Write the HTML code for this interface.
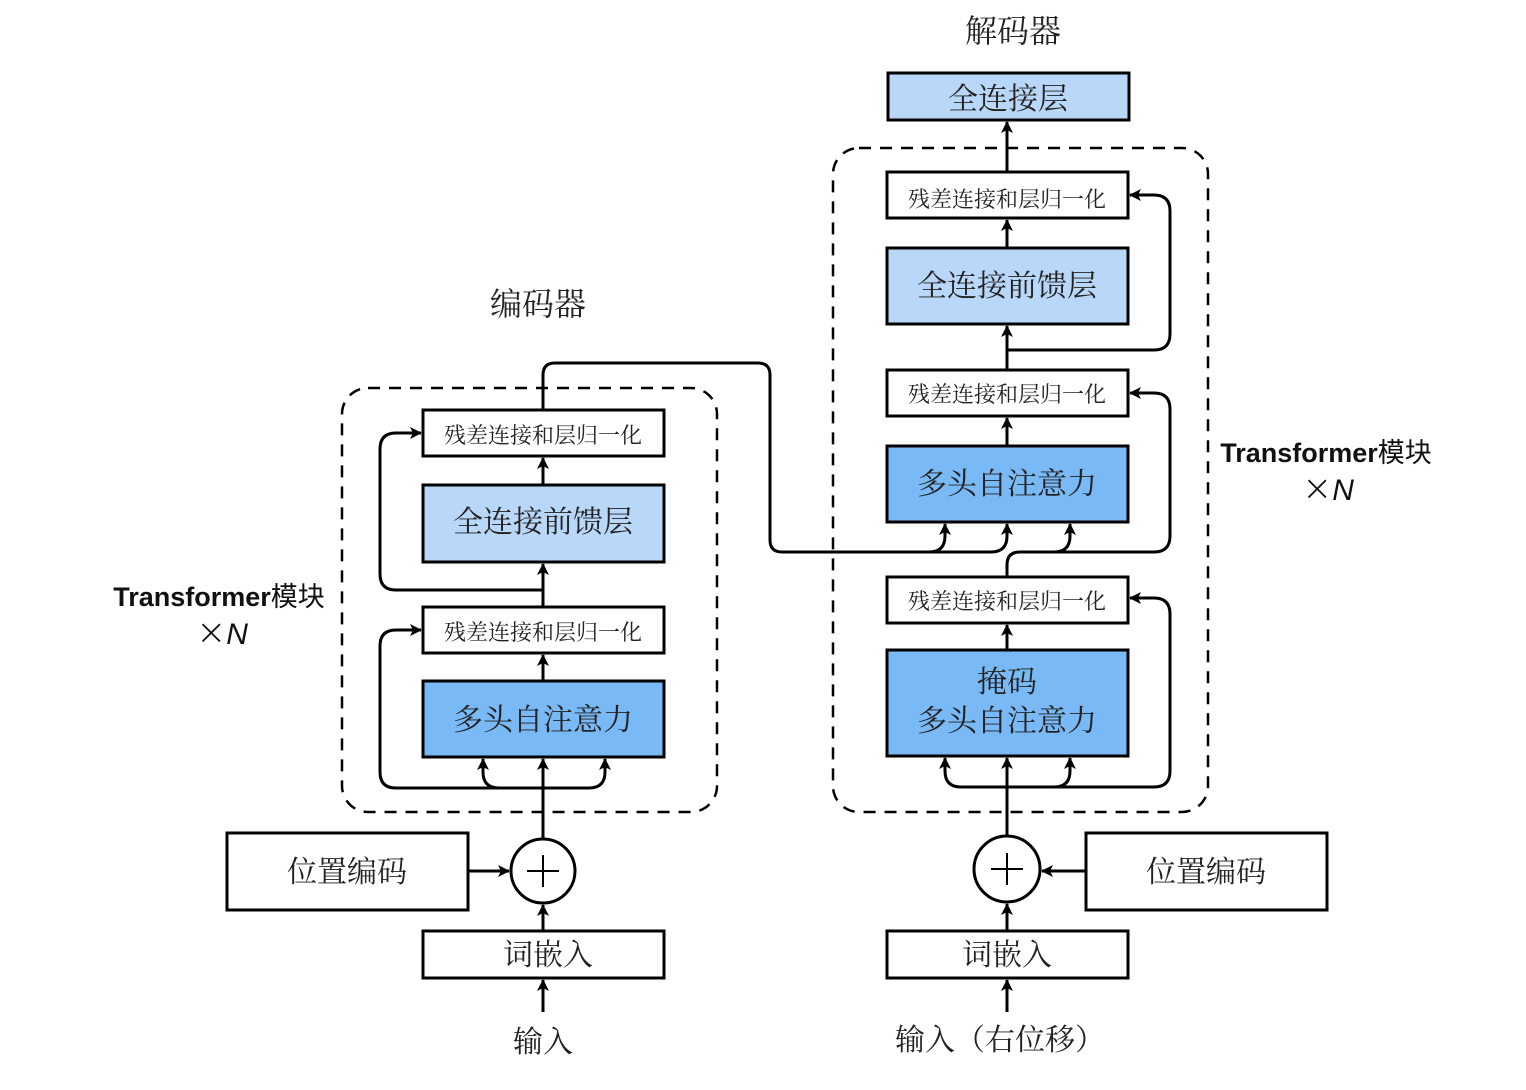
<!DOCTYPE html>
<html><head><meta charset="utf-8"><style>
html,body{margin:0;padding:0;background:#fff}
svg{display:block}
.s{font-family:"Liberation Serif","Noto Serif CJK SC",serif;fill:#222}
.b{font-family:"Liberation Sans","Noto Sans CJK SC",sans-serif;font-weight:bold;fill:#111}
</style></head><body>
<svg width="1526" height="1090" viewBox="0 0 1526 1090" xmlns="http://www.w3.org/2000/svg">
<defs>
<marker id="a" viewBox="0 0 12 12" refX="11" refY="6" markerWidth="12" markerHeight="12" markerUnits="userSpaceOnUse" orient="auto">
<path d="M0,0 L12,6 L0,12 L3,6 z" fill="#000"/></marker>
</defs>
<g fill="none" stroke="#000" stroke-width="3">
<rect x="342" y="388" width="375" height="424" rx="26" stroke-dasharray="12,9" stroke-width="2.5"/>
<rect x="833" y="148" width="375" height="664" rx="26" stroke-dasharray="12,9" stroke-width="2.5"/>
<rect x="423" y="410" width="241" height="46" fill="#fff"/>
<rect x="423" y="485" width="241" height="77" fill="#b9d7f9"/>
<rect x="423" y="607" width="241" height="46" fill="#fff"/>
<rect x="423" y="681" width="241" height="76" fill="#79b9f5"/>
<rect x="227" y="833" width="241" height="77" fill="#fff"/>
<rect x="423" y="931" width="241" height="47" fill="#fff"/>
<circle cx="543" cy="871" r="32" fill="#fff"/>
<path d="M543,855 V887 M527,871 H559" stroke-width="2"/>
<rect x="888" y="73" width="241" height="47" fill="#b9d7f9"/>
<rect x="887" y="172" width="241" height="46" fill="#fff"/>
<rect x="887" y="248" width="241" height="76" fill="#b9d7f9"/>
<rect x="887" y="370" width="241" height="46" fill="#fff"/>
<rect x="887" y="446" width="241" height="76" fill="#79b9f5"/>
<rect x="887" y="577" width="241" height="46" fill="#fff"/>
<rect x="887" y="650" width="241" height="106" fill="#79b9f5"/>
<rect x="1086" y="833" width="241" height="77" fill="#fff"/>
<rect x="887" y="931" width="241" height="47" fill="#fff"/>
<circle cx="1007" cy="869" r="33" fill="#fff"/>
<path d="M1007,853 V885 M991,869 H1023" stroke-width="2"/>

<path d="M543,1012 V980" marker-end="url(#a)"/>
<path d="M543,931 V905" marker-end="url(#a)"/>
<path d="M468,871 H509" marker-end="url(#a)"/>
<path d="M543,839 V759" marker-end="url(#a)"/>
<path d="M499,788 H589 Q605,788 605,772 V759" marker-end="url(#a)"/>
<path d="M499,788 Q483,788 483,772 V759" marker-end="url(#a)"/>
<path d="M543,788 H396 Q380,788 380,772 V646 Q380,630 396,630 H421" marker-end="url(#a)"/>
<path d="M543,681 V655" marker-end="url(#a)"/>
<path d="M543,607 V564" marker-end="url(#a)"/>
<path d="M543,590 H396 Q380,590 380,574 V449 Q380,433 396,433 H421" marker-end="url(#a)"/>
<path d="M543,485 V458" marker-end="url(#a)"/>
<path d="M543,410 V375 Q543,363 555,363 H758 Q770,363 770,375 V540 Q770,552 782,552 H929 Q945,552 945,536 V524" marker-end="url(#a)"/>
<path d="M929,552 H991 Q1007,552 1007,536 V524" marker-end="url(#a)"/>

<path d="M1007,1012 V980" marker-end="url(#a)"/>
<path d="M1007,931 V904" marker-end="url(#a)"/>
<path d="M1086,871 H1042" marker-end="url(#a)"/>
<path d="M1007,836 V758" marker-end="url(#a)"/>
<path d="M961,787 Q945,787 945,771 V758" marker-end="url(#a)"/>
<path d="M961,787 H1154 Q1170,787 1170,771 V614 Q1170,598 1154,598 H1130" marker-end="url(#a)"/>
<path d="M1054,787 Q1070,787 1070,771 V758" marker-end="url(#a)"/>
<path d="M1007,650 V625" marker-end="url(#a)"/>
<path d="M1007,577 V565 Q1007,552 1020,552 H1054 Q1070,552 1070,536 V524" marker-end="url(#a)"/>
<path d="M1054,552 H1154 Q1170,552 1170,536 V409 Q1170,393 1154,393 H1130" marker-end="url(#a)"/>
<path d="M1007,446 V418" marker-end="url(#a)"/>
<path d="M1007,370 V326" marker-end="url(#a)"/>
<path d="M1007,350 H1154 Q1170,350 1170,334 V211 Q1170,195 1154,195 H1130" marker-end="url(#a)"/>
<path d="M1007,248 V220" marker-end="url(#a)"/>
<path d="M1007,172 V122" marker-end="url(#a)"/>
</g>

<g class="s" text-anchor="middle">
<text x="1013" y="42" font-size="32">解码器</text>
<text x="538" y="315" font-size="32">编码器</text>
<text x="1008" y="109" font-size="30">全连接层</text>
<text x="1007" y="207" font-size="22">残差连接和层归一化</text>
<text x="1007" y="296" font-size="30">全连接前馈层</text>
<text x="1007" y="402" font-size="22">残差连接和层归一化</text>
<text x="1007" y="494" font-size="30">多头自注意力</text>
<text x="1007" y="609" font-size="22">残差连接和层归一化</text>
<text x="1007" y="692" font-size="30">掩码</text>
<text x="1007" y="731" font-size="30">多头自注意力</text>
<text x="1206" y="882" font-size="30">位置编码</text>
<text x="1007" y="965" font-size="30">词嵌入</text>
<text x="1000" y="1050" font-size="30">输入（右位移）</text>
<text x="543" y="443" font-size="22">残差连接和层归一化</text>
<text x="543" y="532" font-size="30">全连接前馈层</text>
<text x="543" y="640" font-size="22">残差连接和层归一化</text>
<text x="543" y="730" font-size="30">多头自注意力</text>
<text x="347" y="882" font-size="30">位置编码</text>
<text x="548" y="965" font-size="30">词嵌入</text>
<text x="543" y="1052" font-size="30">输入</text>
</g>
<g class="b" text-anchor="middle" font-size="27">
<text x="219" y="606">Transformer<tspan font-weight="normal">模块</tspan></text>
<text x="1326" y="462">Transformer<tspan font-weight="normal">模块</tspan></text>
</g>
<g font-family="Liberation Sans, sans-serif" font-size="30" fill="#111" text-anchor="middle">
<text x="222" y="644"><tspan font-size="36" font-family="DejaVu Sans, sans-serif" font-weight="100">×</tspan><tspan font-style="italic">N</tspan></text>
<text x="1328" y="500"><tspan font-size="36" font-family="DejaVu Sans, sans-serif" font-weight="100">×</tspan><tspan font-style="italic">N</tspan></text>
</g>
</svg>
</body></html>
